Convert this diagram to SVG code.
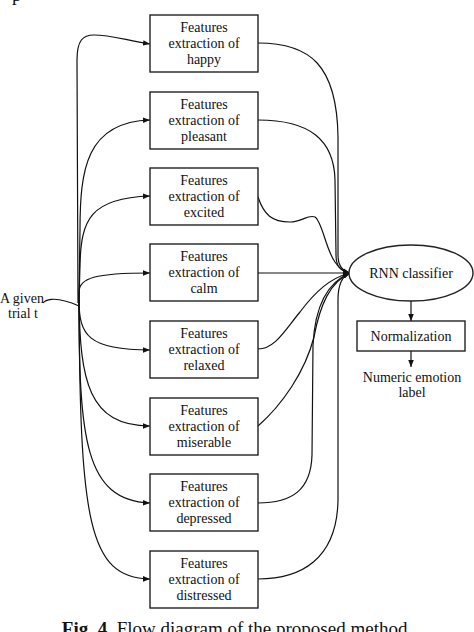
<svg xmlns="http://www.w3.org/2000/svg" width="474" height="632" viewBox="0 0 474 632">
<style>
text{font-family:"Liberation Serif","Times New Roman",serif;font-size:14px;fill:#111;text-anchor:middle}
.box{fill:#fff;stroke:#222;stroke-width:1.4}
.c{fill:none;stroke:#111;stroke-width:1.2}
.a{marker-end:url(#ah)}
</style>
<defs>
<marker id="ah" viewBox="0 0 10 10" refX="10" refY="5" markerWidth="7" markerHeight="7" markerUnits="userSpaceOnUse" orient="auto"><path d="M0,1 L10,5 L0,9 z" fill="#111"/></marker>
</defs>
<rect width="474" height="632" fill="#fff"/>
<text x="12" y="1" style="font-size:19px;text-anchor:start">p</text>
<g id="connectors">
<path class="c" d="M43,303 C46,299 55,298 65,301 C70,302 75,304 79,306"/>
<path class="c a" d="M78,303 L77,60 C77,40 83,35 94,35 C110,35 125,40 150,44"/>
<path class="c a" d="M79,300 L80,230 C80,170 86,122 150,120"/>
<path class="c a" d="M79,300 L80,265 C81,220 90,198 150,196"/>
<path class="c a" d="M79,305 L79,292 C79,278 95,273 150,273"/>
<path class="c a" d="M79,300 C79,335 88,350 150,350"/>
<path class="c a" d="M79,300 C80,380 88,426 150,426"/>
<path class="c a" d="M79,300 C79,440 85,500 150,503"/>
<path class="c a" d="M79,300 C80,520 88,578 150,579"/>
<path class="c a" d="M258,43 C310,43 337,65 338,137 L338,255 C338,266 342,271 350,273"/>
<path class="c a" d="M258,120 C310,120 334,140 335,180 L336,255 C336,266 340,271 350,273"/>
<path class="c a" d="M258,197 C264,215 272,222 290,222 C302,222 308,214 315,217 C322,221 326,250 335,262 C339,268 344,272 350,273"/>
<path class="c a" d="M258,273 L350,273"/>
<path class="c a" d="M258,349 C275,349 285,330 300,312 C315,292 330,278 350,273"/>
<path class="c a" d="M258,426 C282,405 305,372 314,337 C320,305 330,282 350,273"/>
<path class="c a" d="M258,503 C292,503 311,490 312,455 L313,345 C315,305 328,282 350,273"/>
<path class="c a" d="M258,579 C300,579 337,560 338,500 L338,300 C338,285 342,276 350,273"/>
<path class="c a" d="M411,301 L411,321"/>
<path class="c a" d="M411,351 L411,367"/>
</g>
<g id="input"><text x="22" y="303">A given</text><text x="23" y="318">trial t</text></g>
<g id="happy"><rect class="box" x="150" y="15" width="108" height="57"/><text x="204" y="32">Features</text><text x="204" y="48">extraction of</text><text x="204" y="64">happy</text></g>
<g id="pleasant"><rect class="box" x="150" y="92" width="108" height="57"/><text x="204" y="109">Features</text><text x="204" y="125">extraction of</text><text x="204" y="141">pleasant</text></g>
<g id="excited"><rect class="box" x="150" y="168" width="108" height="57"/><text x="204" y="185">Features</text><text x="204" y="201">extraction of</text><text x="204" y="217">excited</text></g>
<g id="calm"><rect class="box" x="150" y="244" width="108" height="57"/><text x="204" y="261">Features</text><text x="204" y="277">extraction of</text><text x="204" y="293">calm</text></g>
<g id="relaxed"><rect class="box" x="150" y="321" width="108" height="57"/><text x="204" y="338">Features</text><text x="204" y="354">extraction of</text><text x="204" y="370">relaxed</text></g>
<g id="miserable"><rect class="box" x="150" y="398" width="108" height="57"/><text x="204" y="415">Features</text><text x="204" y="431">extraction of</text><text x="204" y="447">miserable</text></g>
<g id="depressed"><rect class="box" x="150" y="474" width="108" height="57"/><text x="204" y="491">Features</text><text x="204" y="507">extraction of</text><text x="204" y="523">depressed</text></g>
<g id="distressed"><rect class="box" x="150" y="551" width="108" height="57"/><text x="204" y="568">Features</text><text x="204" y="584">extraction of</text><text x="204" y="600">distressed</text></g>
<g id="rnn"><ellipse class="box" cx="411" cy="273" rx="62" ry="28"/><text x="411" y="278">RNN classifier</text></g>
<g id="normalization"><rect class="box" x="357" y="321" width="108" height="30"/><text x="411" y="341">Normalization</text></g>
<g id="output"><text x="412" y="382">Numeric emotion</text><text x="412" y="397">label</text></g>
<text x="237" y="635" style="font-size:19px"><tspan font-weight="bold">Fig. 4.</tspan> Flow diagram of the proposed method.</text>
</svg>
